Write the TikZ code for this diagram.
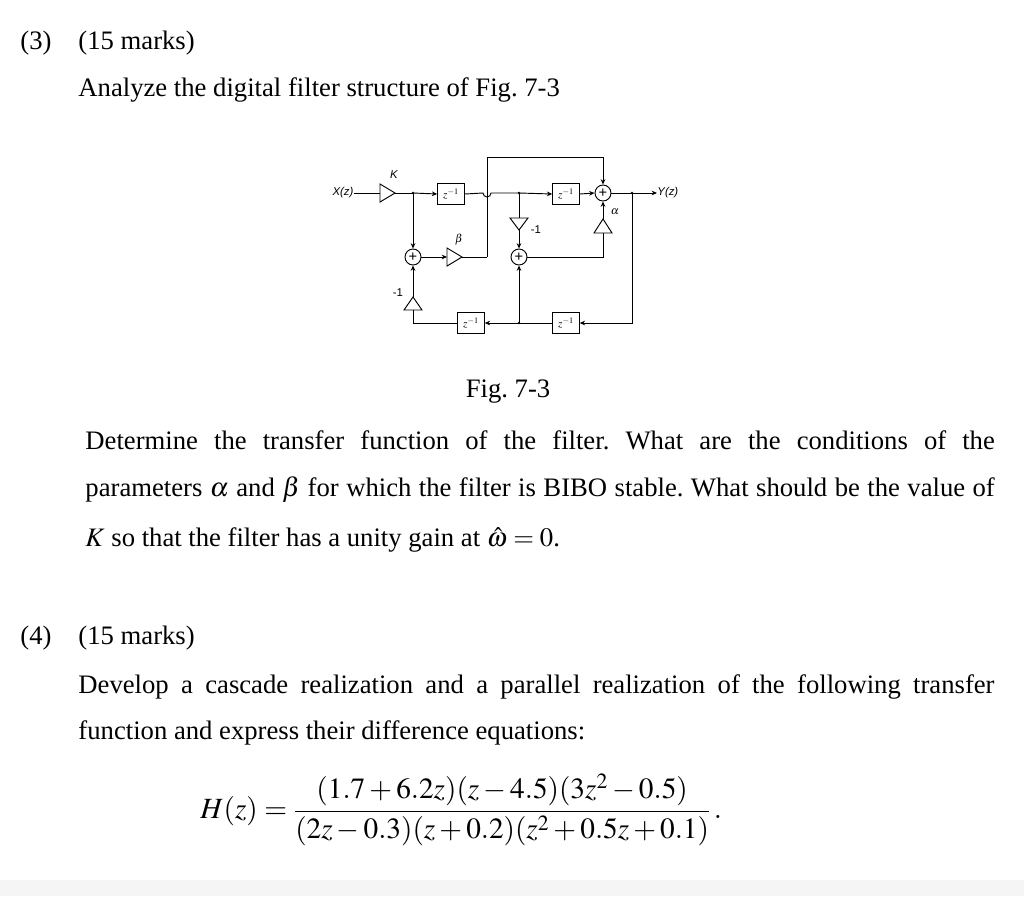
\documentclass[tikz,border=0pt]{standalone}
\usepackage{mathptmx}
\usepackage{fontspec}
\setmainfont{Liberation Serif}
\newfontfamily\dsf{Liberation Sans}
\usetikzlibrary{arrows.meta}
\begin{document}
\frenchspacing
\begin{tikzpicture}[x=0.75pt,y=-0.75pt,
  txt/.style={anchor=west,inner sep=0,font=\fontsize{20}{24}\selectfont},
  dbox/.style={draw,minimum width=20pt,minimum height=16pt,inner sep=0,font=\dsf\fontsize{8.5}{9}\selectfont},
  adder/.style={draw,circle,minimum size=12pt,inner sep=0,font=\dsf\fontsize{11}{11}\selectfont},
  lbl/.style={font=\dsf\fontsize{8.5}{9}\selectfont,inner sep=0},
  sig/.style={-{Stealth[length=4pt,width=3.5pt]}},
  line width=0.7pt]
\useasboundingbox (0,0) rectangle (1024,896);
\fill[gray!8] (0,880) rectangle (1024,896);
% text
\node[txt] (t1) at (20,43) {(3)};
\node[txt] (t2) at (78,43) {(15 marks)};
\node[txt] (t3) at (78,90) {Analyze the digital filter structure of Fig. 7-3};
\node[txt,anchor=center] (cap) at (508,392) {Fig. 7-3};
\node[txt] (p1) at (85,440) {\makebox[682pt][s]{Determine the transfer function of the filter. What are the conditions of the}};
\node[txt] (p2) at (85,490) {\makebox[682pt][s]{parameters $\alpha$ and $\beta$ for which the filter is BIBO stable. What should be the value of}};
\node[txt] (p3) at (85,540) {$K$ so that the filter has a unity gain at $\hat{\omega}=0$.};
\node[txt] (t4) at (20,638) {(4)};
\node[txt] (t5) at (78,638) {(15 marks)};
\node[txt] (p4) at (78,687) {\makebox[687pt][s]{Develop a cascade realization and a parallel realization of the following transfer}};
\node[txt] (p5) at (78,733) {function and express their difference equations:};
\node[txt,font=\fontsize{22}{24}\selectfont] (eq) at (200,810) {$\displaystyle H(z)=\frac{(1.7+6.2z)(z-4.5)(3z^2-0.5)}{(2z-0.3)(z+0.2)(z^2+0.5z+0.1)}\,.$};
% diagram
\node[lbl,font=\dsf\itshape\fontsize{8.5}{9}\selectfont] (X) at (343,193) {X(z)};
\node[lbl,font=\dsf\itshape\fontsize{8.5}{9}\selectfont,anchor=west] (Y) at (657,193) {Y(z)};
\coordinate (kin) at (380,193);
\draw (X.east) -- (kin);
\draw (380,184) -- (395,193) -- (380,202) -- cycle;
\node[lbl,font=\dsf\itshape\fontsize{8.5}{9}\selectfont] (K) at (394,175) {K};
\coordinate (j1) at (413,193);
\node[dbox] (d1) at (451,194) {$z^{-1}$};
\coordinate (j2) at (519,193);
\node[dbox] (d2) at (566,194) {$z^{-1}$};
\node[adder] (a1) at (603,193) {+};
\coordinate (j3) at (632,193);
\draw (395,193) -- (j1);
\draw[sig] (j1) -- (d1.west);
\draw (d1.east) -- (483,193) arc[start angle=180,end angle=0,radius=4] -- (j2);
\draw[sig] (j2) -- (d2.west);
\draw[sig] (d2.east) -- (a1.west);
\draw[sig] (a1.east) -- (Y.west);
% top feedforward
\coordinate (hb) at (487,257);
\draw[sig] (hb) -- (487,157) -- (603,157) -- (a1.north);
% -1 down triangle
\draw (j2) -- (519,218);
\draw (510,218) -- (528,218) -- (519,230) -- cycle;
\node[lbl] (m1) at (536,230) {-1};
\node[adder] (a2) at (519,257) {+};
\draw[sig] (519,230) -- (a2.north);
% alpha
\draw (594,233) -- (612,233) -- (603,219) -- cycle;
\node[lbl] (al) at (615,212) {$\alpha$};
\draw[sig] (603,219) -- (a1.south);
\draw (a2.east) -- (603,257) -- (603,233);
% left adder, beta
\node[adder] (a3) at (413,257) {+};
\draw[sig] (j1) -- (a3.north);
\draw[sig] (a3.east) -- (447,257);
\draw (447,248) -- (462,257) -- (447,266) -- cycle;
\node[lbl] (be) at (459,240) {$\beta$};
\draw (462,257) -- (hb);
% -1 up triangle
\draw (413,297) -- (422,310) -- (404,310) -- cycle;
\node[lbl] (m2) at (398,293) {-1};
\draw[sig] (413,297) -- (a3.south);
% bottom
\node[dbox] (d3) at (471,323) {$z^{-1}$};
\node[dbox] (d4) at (566,323) {$z^{-1}$};
\coordinate (j4) at (519,323);
\draw[sig] (j3) -- (632,323) -- (d4.east);
\draw (d4.west) -- (j4);
\draw[sig] (j4) -- (d3.east);
\draw[sig] (j4) -- (a2.south);
\draw (d3.west) -- (413,323) -- (413,310);
\foreach \p in {j1,j2,j3,j4} \fill (\p) circle (1.3);
\end{tikzpicture}
\end{document}
